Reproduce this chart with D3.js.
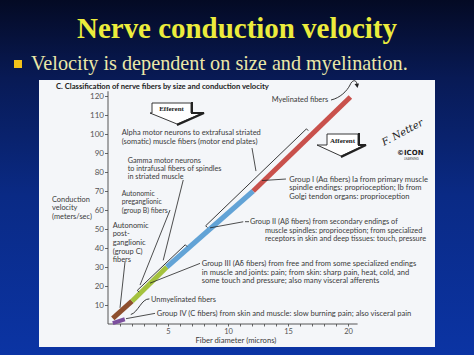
<!DOCTYPE html>
<html><head><meta charset="utf-8">
<script src="https://cdn.jsdelivr.net/npm/d3@7"></script>
<style>body{margin:0;background:#0a2a80;} svg{display:block}</style>
</head><body><svg id="c" width="474" height="355"></svg>
<script>
// ---------- data ----------
const slideTitle = "Nerve conduction velocity";
const bulletText = "Velocity is dependent on size and myelination.";
const chartTitle = "C. Classification of nerve fibers by size and conduction velocity";
const yTickValues = [10,20,30,40,50,60,70,80,90,100,110,120];
const xTickLabels = [5,10,15,20];
const xMinorTicks = [1,2,3,4,5,6,7,8,9,10,11,12,13,14,15,16,17,18,19,20];
// myelinated fiber segments: Group B/autonomic, Group III (Ad), Group II (Ab), Group I (Aa)
const segDiameter = [[0.4,2.0],[2.0,4.9],[4.9,12.1],[12.1,20.2]];
const segVelocity = [[3,12],[12,30],[30,70],[70,119.5]];
// unmyelinated (C) fibers
const unmyelDiameter = [0.4,1.4];
const unmyelVelocity = [0.5,2.5];
// efferent ranges (thin bars): gamma / B, alpha motor
const efferentDiameter = [[2.7,6.7],[8.4,16.8]];
const efferentVelocity = [[16,40],[50,101]];

// ---------- style ----------
const segColors = ["#8e4f2e","#a4c23e","#62a3d6","#c9514c"];
const unmyelColor = "#7b4f9e";
const labelFont = "Lato, 'Open Sans', sans-serif";
const textCol = "#3a3a3a";

const svg = d3.select("#c");
const W = 474, H = 355;

// background gradient
const defs = svg.append("defs");
const g1 = defs.append("linearGradient").attr("id","bg").attr("x1",0).attr("y1",0).attr("x2",0).attr("y2",1);
[[0,"#040a24"],[0.22,"#081a55"],[0.55,"#0a2a85"],[1,"#0b34a4"]].forEach(s=>g1.append("stop").attr("offset",s[0]).attr("stop-color",s[1]));
svg.append("rect").attr("width",W).attr("height",H).attr("fill","url(#bg)");

function fit(sel, target){
  const fs = parseFloat(sel.attr("font-size"));
  const w = sel.node().getComputedTextLength();
  sel.attr("font-size", fs*target/w);
}

// slide title
const t = svg.append("text").attr("x",237).attr("y",38).attr("text-anchor","middle")
  .attr("font-family","'Liberation Serif','Times New Roman',serif").attr("font-weight","bold")
  .attr("font-size",29).attr("fill","#ecec3c").text(slideTitle);
fit(t,320);
svg.append("rect").attr("x",14).attr("y",60).attr("width",8).attr("height",8).attr("fill","#f2c21a");
const b = svg.append("text").attr("x",31).attr("y",70)
  .attr("font-family","'Liberation Serif','Times New Roman',serif")
  .attr("font-size",20).attr("fill","#ebe8a8").text(bulletText);
fit(b,377);

// panel
svg.append("rect").attr("x",39).attr("y",80).attr("width",396).attr("height",267).attr("fill","#f4f6f9");

const ct = svg.append("text").attr("x",56).attr("y",89).attr("font-family",labelFont)
  .attr("font-weight","bold").attr("font-size",7.5).attr("fill","#222").text(chartTitle);
fit(ct,213);

// scales
const x = d3.scaleLinear().domain([0,20]).range([108,348]);
const y = d3.scaleLinear().domain([0,120]).range([324,96]);

// axes
const yAxis = svg.append("g").attr("transform",`translate(${x(0)},0)`)
  .call(d3.axisLeft(y).tickValues(yTickValues).tickSize(3).tickPadding(1).tickSizeOuter(0));
yAxis.select(".domain").remove();
yAxis.selectAll("line").attr("stroke","#444").attr("stroke-width",0.8);
yAxis.selectAll("text").attr("font-family",labelFont).attr("font-size",8).attr("fill","#555");
svg.append("line").attr("x1",x(0)).attr("x2",x(0)).attr("y1",y(0)).attr("y2",y(122.5)).attr("stroke","#444").attr("stroke-width",0.9);

const xAxis = svg.append("g").attr("transform",`translate(0,${y(0)})`)
  .call(d3.axisBottom(x).tickValues(xMinorTicks).tickSize(2.5).tickPadding(2).tickSizeOuter(0)
    .tickFormat(d=>xTickLabels.includes(d)?d:""));
xAxis.select(".domain").remove();
xAxis.selectAll("line").attr("stroke","#444").attr("stroke-width",0.8);
xAxis.selectAll("text").attr("font-family",labelFont).attr("font-size",7.5).attr("fill","#555");
svg.append("line").attr("x1",x(0)).attr("x2",x(20.8)).attr("y1",y(0)).attr("y2",y(0)).attr("stroke","#444").attr("stroke-width",0.9);

// annotation text helper: fits font so that line fi has width fw
function block(x0,y0,lines,dy,fi,fw){
  const tx = svg.append("text").attr("font-family",labelFont).attr("font-size",7.5).attr("fill",textCol);
  const spans = lines.map((s,i)=>tx.append("tspan").attr("x",Array.isArray(x0)?x0[i]:x0).attr("y",y0+i*dy).text(s));
  const w = spans[fi].node().getComputedTextLength();
  tx.attr("font-size", 7.5*fw/w);
  return tx;
}

// axis titles
block(236-40.5,342.5,["Fiber diameter (microns)"],8,0,81);
block(52,201.5,["Conduction","velocity","(meters/sec)"],8.6,2,40);

// myelinated segments
svg.append("g").selectAll("line").data(segDiameter).join("line")
  .attr("x1",(d,i)=>x(d[0])).attr("y1",(d,i)=>y(segVelocity[i][0]))
  .attr("x2",(d,i)=>x(d[1])).attr("y2",(d,i)=>y(segVelocity[i][1]))
  .attr("stroke",(d,i)=>segColors[i]).attr("stroke-width",5);
// unmyelinated
svg.append("line").attr("x1",x(unmyelDiameter[0])).attr("y1",y(unmyelVelocity[0]))
  .attr("x2",x(unmyelDiameter[1])).attr("y2",y(unmyelVelocity[1]))
  .attr("stroke",unmyelColor).attr("stroke-width",4);

// efferent thin bars offset above main line
efferentDiameter.forEach((d,i)=>{
  const x1=x(d[0]), y1=y(efferentVelocity[i][0]), x2=x(d[1]), y2=y(efferentVelocity[i][1]);
  const len=Math.hypot(x2-x1,y2-y1), nx=(y2-y1)/len, ny=-(x2-x1)/len; // perpendicular (up-left)
  const o=4.5;
  svg.append("path").attr("d",`M${x1+nx*2},${y1+ny*2}L${x1+nx*o},${y1+ny*o}L${x2+nx*o},${y2+ny*o}L${x2+nx*2},${y2+ny*2}`)
    .attr("fill","none").attr("stroke","#222").attr("stroke-width",0.9);
});

// leaders (data coordinates)
const leaders = [
  [[12.0,92.6],[12.33,80.5]],
  [[6.27,75.8],[4.6,33.5]],
  [[5.17,60],[2.67,20.5]],
  [[1.42,32.8],[1.0,8.5]],
  [[14.83,76.3],[12.83,75.5]],
  [[11.27,53.8],[8.5,50.6]],
  [[7.67,31.9],[3.5,21.5]],
  [[3.92,5.6],[1.5,2.8]]
];
svg.append("g").selectAll("line").data(leaders).join("line")
  .attr("x1",d=>x(d[0][0])).attr("y1",d=>y(d[0][1])).attr("x2",d=>x(d[1][0])).attr("y2",d=>y(d[1][1]))
  .attr("stroke","#222").attr("stroke-width",0.8);
// curved leader unmyelinated
svg.append("path").attr("d",`M${x(3.45)},${y(13.2)} C${x(2.8)},${y(13.5)} ${x(2.5)},${y(6)} ${x(1.9)},${y(5)}`)
  .attr("fill","none").attr("stroke","#222").attr("stroke-width",0.9);
// myelinated hook arrow
svg.append("path").attr("d","M331,100 C340,98 347,91 350,85 C352,80 356,79 357,84")
  .attr("fill","none").attr("stroke","#222").attr("stroke-width",0.9);
svg.append("path").attr("d","M354.5,84 L359,83.5 L357.5,88 Z").attr("fill","#222");

// annotation text
block(121.7,135,["Alpha motor neurons to extrafusal striated","(somatic) muscle fibers (motor end plates)"],8.5,1,136);
block(127.7,162.5,["Gamma motor neurons","to intrafusal fibers of spindles","in striated muscle"],8.4,1,94);
block(121.7,196,["Autonomic","preganglionic","(group B) fibers"],8.3,2,46);
block(112.7,227.5,["Autonomic","post-","ganglionic","(group C)","fibers"],8.7,3,30);
block(271.7,102,["Myelinated fibers"],8,0,56.6);
block(289.3,181.5,["Group I (A\u03B1 fibers) Ia from primary muscle","spindle endings: proprioception; Ib from","Golgi tendon organs: proprioception"],8.5,0,139);
block([250,265,265],224,["Group II (A\u03B2 fibers) from secondary endings of","muscle spindles: proprioception; from specialized","receptors in skin and deep tissues: touch, pressure"],8.5,0,148);
block(201.7,266,["Group III (A\u03B4 fibers) from free and from some specialized endings","in muscle and joints: pain; from skin: sharp pain, heat, cold, and","some touch and pressure; also many visceral afferents"],8.5,0,215);
block(151,301.5,["Unmyelinated fibers"],8,0,65);
block(156.7,316,["Group IV (C fibers) from skin and muscle: slow burning pain; also visceral pain"],8,0,255);
svg.append("line").attr("x1",245).attr("x2",249).attr("y1",221.7).attr("y2",221.7).attr("stroke","#222").attr("stroke-width",0.8);

// block arrows
function blockArrow(pts, label, cx, cy){
  svg.append("path").attr("d","M"+pts.map(p=>p.join(",")).join("L")+"Z")
    .attr("fill","#fff").attr("stroke","#222").attr("stroke-width",0.9);
  svg.append("text").attr("x",cx).attr("y",cy).attr("text-anchor","middle").attr("font-family","'Liberation Serif',serif")
    .attr("font-weight","bold").attr("font-size",7).attr("fill","#222").text(label);
}
blockArrow([[152,103],[191,103],[191,113],[203,113],[177,124],[150,113],[152,113]],"Efferent",171.5,111);
svg.append("path").attr("d","M192,102 V113 H204 L177,125").attr("fill","none").attr("stroke","#222").attr("stroke-width",2);
blockArrow([[327,134],[358,134],[358,145],[365,145],[341,156],[317,145],[327,145]],"Afferent",342.5,143);
svg.append("path").attr("d","M359,133 V145 H366 L341,157").attr("fill","none").attr("stroke","#222").attr("stroke-width",2);

// Netter signature & logo
svg.append("text").attr("transform","translate(384,146) rotate(-28)").attr("font-family","'DejaVu Serif',serif")
  .attr("font-style","italic").attr("font-size",10).attr("fill","#222").text("F. Netter");
svg.append("text").attr("x",397).attr("y",155).attr("font-family","'DejaVu Sans',sans-serif").attr("font-weight","bold")
  .attr("font-size",7).attr("fill","#222").text("\u00A9ICON");
svg.append("text").attr("x",404).attr("y",160).attr("font-family",labelFont)
  .attr("font-size",3).attr("fill","#444").text("LEARNING");
</script></body></html>
